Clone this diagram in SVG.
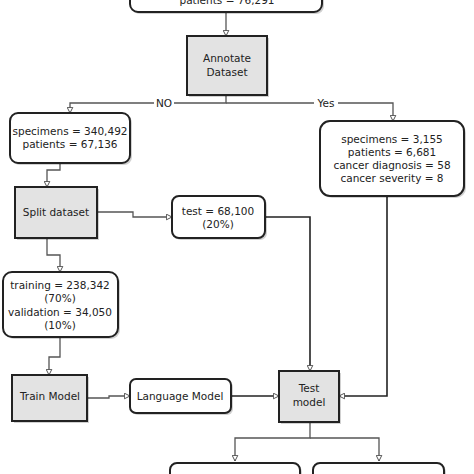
<svg xmlns="http://www.w3.org/2000/svg" width="474" height="474" viewBox="0 0 474 474">
<style>
text{font-family:"DejaVu Sans","Verdana",sans-serif;font-size:10.5px;fill:#222;text-anchor:middle}
.rb{fill:#fff;stroke:#222;stroke-width:2}
.sq{fill:#e3e3e3;stroke:#222;stroke-width:2}
.sh{fill:#000;opacity:0.18}
.c{fill:none;stroke:#555;stroke-width:1.3}
.cd{fill:none;stroke:#222;stroke-width:1.6}
</style>
<defs>
<marker id="a" viewBox="0 0 10 10" refX="9" refY="5" markerWidth="7" markerHeight="7" orient="auto" markerUnits="userSpaceOnUse">
<path d="M1,1 L9,5 L1,9 Z" fill="#fff" stroke="#444" stroke-width="1.3"/>
</marker>
</defs>
<g id="connectors">
<path class="c" d="M226,12 V36" marker-end="url(#a)"/>
<path class="c" d="M226,95 V103 H70 V113" marker-end="url(#a)"/>
<path class="c" d="M226,103 H393 V121" marker-end="url(#a)"/>
<path class="c" d="M60,163 V170 H47 V187" marker-end="url(#a)"/>
<path class="c" d="M97,212 H133 V217 H172" marker-end="url(#a)"/>
<path class="c" d="M47,238 V255 H60 V272" marker-end="url(#a)"/>
<path class="cd" d="M265,217 H310 V371" marker-end="url(#a)"/>
<path class="cd" d="M387,196 V396 H339" marker-end="url(#a)"/>
<path class="c" d="M60,337 V357 H49 V375" marker-end="url(#a)"/>
<path class="c" d="M87,398 H109 V396 H130" marker-end="url(#a)"/>
<path class="cd" d="M231,396 H279" marker-end="url(#a)"/>
<path class="c" d="M310,422 V438 H235 V461" marker-end="url(#a)"/>
<path class="c" d="M310,438 H379 V461" marker-end="url(#a)"/>
<rect x="154" y="98" width="20" height="11" fill="#fff"/>
<text x="164" y="107">NO</text>
<rect x="314" y="98" width="24" height="11" fill="#fff"/>
<text x="326" y="107">Yes</text>
</g>
<g id="n-top">
<rect class="sh" x="132" y="-40" width="192" height="54" rx="8"/>
<rect class="rb" x="130" y="-42" width="192" height="54" rx="8"/>
<text x="227" y="4">patients = 76,291</text>
</g>
<g id="n-annotate">
<rect class="sh" x="189" y="38" width="80" height="59"/>
<rect class="sq" x="187" y="36" width="80" height="59"/>
<text x="227" y="62">Annotate</text>
<text x="227" y="76">Dataset</text>
</g>
<g id="n-no">
<rect class="sh" x="12" y="115" width="120" height="50" rx="8"/>
<rect class="rb" x="10" y="113" width="120" height="50" rx="8"/>
<text x="70" y="135">specimens = 340,492</text>
<text x="70" y="148">patients = 67,136</text>
</g>
<g id="n-yes">
<rect class="sh" x="322" y="123" width="144" height="75" rx="10"/>
<rect class="rb" x="320" y="121" width="144" height="75" rx="10"/>
<text x="392" y="143">specimens = 3,155</text>
<text x="392" y="156">patients = 6,681</text>
<text x="392" y="169">cancer diagnosis = 58</text>
<text x="392" y="182">cancer severity = 8</text>
</g>
<g id="n-split">
<rect class="sh" x="17" y="189" width="82" height="51"/>
<rect class="sq" x="15" y="187" width="82" height="51"/>
<text x="56" y="216">Split dataset</text>
</g>
<g id="n-test">
<rect class="sh" x="174" y="198" width="93" height="42" rx="7"/>
<rect class="rb" x="172" y="196" width="93" height="42" rx="7"/>
<text x="218" y="215">test = 68,100</text>
<text x="218" y="228">(20%)</text>
</g>
<g id="n-training">
<rect class="sh" x="5" y="274" width="115" height="65" rx="9"/>
<rect class="rb" x="3" y="272" width="115" height="65" rx="9"/>
<text x="60" y="289">training = 238,342</text>
<text x="60" y="302">(70%)</text>
<text x="60" y="316">validation = 34,050</text>
<text x="60" y="329">(10%)</text>
</g>
<g id="n-train">
<rect class="sh" x="14" y="377" width="75" height="46"/>
<rect class="sq" x="12" y="375" width="75" height="46"/>
<text x="50" y="400">Train Model</text>
</g>
<g id="n-lm">
<rect class="sh" x="132" y="381" width="101" height="34" rx="6"/>
<rect class="rb" x="130" y="379" width="101" height="34" rx="6"/>
<text x="180" y="400">Language Model</text>
</g>
<g id="n-testmodel">
<rect class="sh" x="281" y="373" width="60" height="51"/>
<rect class="sq" x="279" y="371" width="60" height="51"/>
<text x="309" y="392">Test</text>
<text x="309" y="406">model</text>
</g>
<g id="n-out1">
<rect class="sh" x="172" y="465" width="130" height="40" rx="7"/>
<rect class="rb" x="170" y="463" width="130" height="40" rx="7"/>
</g>
<g id="n-out2">
<rect class="sh" x="315" y="465" width="131" height="40" rx="7"/>
<rect class="rb" x="313" y="463" width="131" height="40" rx="7"/>
</g>
</svg>
